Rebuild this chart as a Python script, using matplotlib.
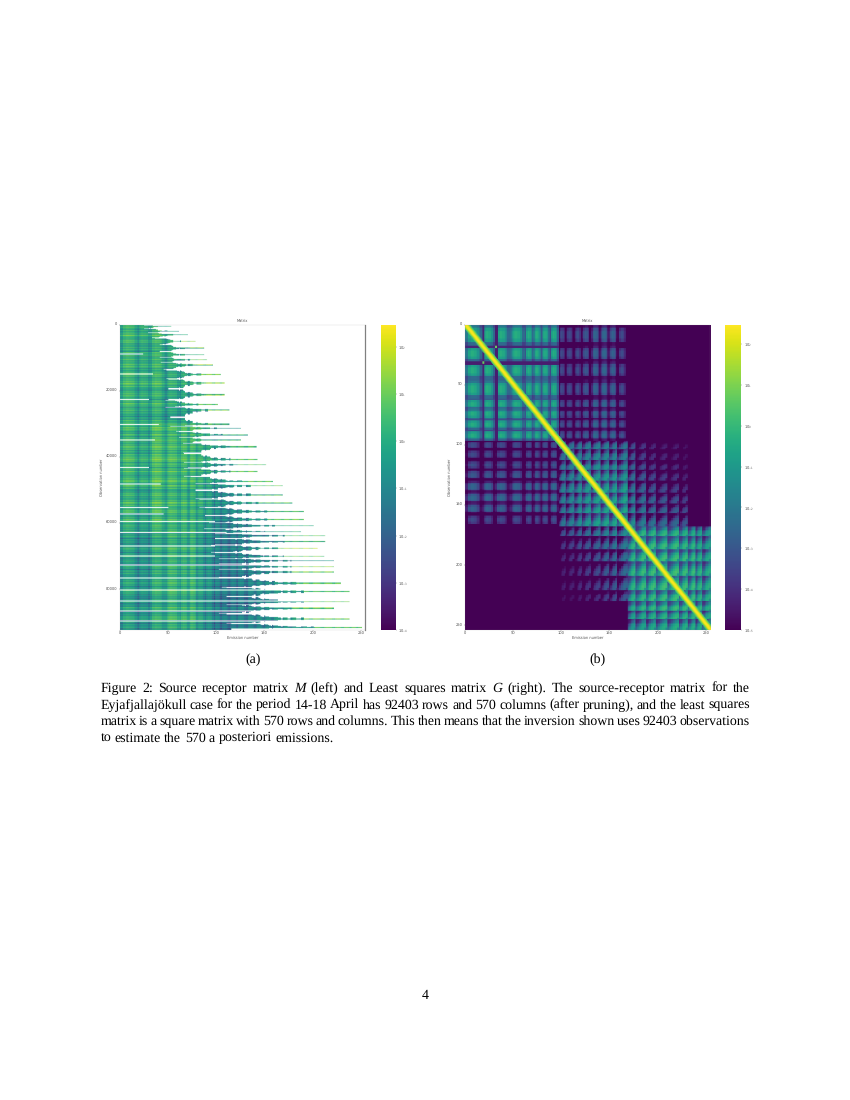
import numpy as np
import matplotlib
matplotlib.use("Agg")
import matplotlib.pyplot as plt
from matplotlib.colors import LogNorm

plt.rcParams["text.hinting"] = "no_hinting"

# ---------- values ----------
BLOCK_EDGES = [0, 18, 31, 46, 62, 70.5, 79, 88, 97, 104, 113, 121, 130, 140, 149, 157.5, 168,
               176.5, 187, 197, 209, 221, 230, 238, 245, 254]
N_A, N_B = 8, 8
# log10 level of each block band against groups A, B, C (matrix G)
G_VS_A = [-0.6, -0.6, -0.6, -0.6, -0.7, -0.7, -0.7, -0.7,
          -3.7, -3.7, -3.5, -3.0, -2.3, -2.0, -2.4, -3.8,
          -5, -5, -5, -5, -5, -5, -5, -5, -5]
G_VS_B = [-3.4, -3.4, -3.4, -3.4, -3.4, -3.4, -3.2, -3.0,
          -2.4, -2.2, -1.9, -1.4, -1.0, -0.9, -0.9, -0.8,
          -1.6, -2.6, -3.1, -3.3, -3.4, -3.9, -5, -5, -5]
G_VS_C = [-5, -5, -5, -5, -5, -5, -5, -5,
          -3.3, -3.2, -3.0, -2.7, -2.4, -2.0, -1.8, -1.6,
          -0.5, -0.3, -0.1, -0.1, -0.1, -0.2, -0.3, -0.6, -0.9]
G_DECAY = [0, 0, -0.05, -0.1, -0.2, -0.3, -0.5, -0.7, -0.9, -1.1, -1.2, -1.3]
G_DECAY_CC = [0, 0, -0.05, -0.05, -0.1, -0.15, -0.25, -0.35, -0.5]
G_SHAPE_C = [[-3.5, -3.5, -3.2, -2.6, -2.0, -1.6],
             [-3.5, -3.2, -2.5, -1.7, -1.0, -0.7],
             [-3.2, -2.5, -1.6, -0.7, -0.2, -0.1],
             [-2.6, -1.7, -0.7, -0.1, 0.2, 0.2],
             [-2.0, -1.0, -0.2, 0.2, 0.4, 0.2],
             [-1.6, -0.7, -0.1, 0.2, 0.2, -0.8]]
G_SHAPE_A = [[-2.6, -1.6, -1.4, -1.4, -1.7, -2.8],
             [-1.6, -0.5, -0.1, -0.2, -0.7, -2.0],
             [-1.3, 0.0, 0.3, 0.1, -0.5, -1.8],
             [-1.3, 0.0, 0.3, 0.1, -0.5, -1.8],
             [-1.6, -0.5, -0.1, -0.2, -0.7, -2.0],
             [-2.8, -2.0, -1.8, -1.8, -2.0, -3.0]]
G_DIAG = [2.45, 2.35, 1.9, 1.0, 0.3]
G_DARK_SPANS = [(18, 20, -4.2), (31, 34, -4.4), (46, 47, -2.6), (62, 63, -3.0), (79, 80, -3.2), (88, 89, -3.4)]
G_SPOTS = [(18, 31, 0.7)]

# matrix M: tips of the wedges, thousands of rows and last emission column
M_TIP_ROWS = [0.7, 2.2, 3.2, 5.2, 7.3, 9.3, 10.8, 12.3, 15.3, 17.8, 21.4, 24.4, 25.9, 30.4, 31.4, 33.5,
              35, 37, 41, 42.5, 44.5, 47.6, 48.8, 51.6, 54.1, 56.6, 59.1, 60.9, 62.7, 63.9, 65.7, 67.7,
              70.2, 71.5, 73.3, 74.8, 78.3, 80.8, 83.8, 85.8, 89.1, 91.7]
M_TIP_COLS = [53, 61, 70, 78, 87, 87, 90, 96, 104, 108, 108, 101, 113, 113, 125, 132,
              125, 141, 142, 151, 142, 158, 168, 168, 178, 190, 190, 200, 187, 212, 212, 204,
              211, 221, 221, 221, 228, 237, 237, 221, 237, 250]
M_BAND_OFFSET = [0.1, -0.1, 0.2, 0.0, -0.2, 0.1, -0.1, 0.1, 0.0, 0.2, -0.1, 0.1, -0.2, 0.0, 0.2, -0.1,
                 0.1, 0.0, 0.2, -0.1, 0.0, 0.2, 0.0, -0.2, 0.1, 0.0, -0.1, -0.2, 0.1, 0.0, -0.2, 0.1,
                 0.0, -0.1, 0.1, -0.1, 0.0, 0.1, -0.2, 0.0, 0.1, -0.1]
M_COL_TOP = [0.2, -0.1, 0.2, -0.2, -0.3, -0.4, -0.2, -0.3, -0.4, -0.4, -0.4, -0.4, -0.4, -0.4, -0.4, -0.4,
             -0.4, -0.4, -0.4, -0.4, -0.4, -0.4, -0.4, -0.4, -0.4]
M_COL_MID = [0.2, -0.2, 0.5, 0.3, 0.3, 0.2, -0.1, -0.4, -0.9, -1.0, -1.0, -0.9, -0.8, -0.9, -0.8, -0.7,
             -0.6, -0.5, -0.4, -0.4, -0.4, -0.4, -0.4, -0.4, -0.4]
M_COL_BOT = [-0.3, -0.7, 0.0, 0.2, 0.1, 0.2, -0.4, -0.7, -1.2, -1.3, -1.3, -1.2, -1.2, -1.1, -1.1, -0.9,
             -0.7, -0.6, -0.5, -0.5, -0.5, -0.5, -0.5, -0.5, -0.5]
M_COL_SHAPE = [-0.7, 0.0, 0.2, 0.1, 0.0, -0.5]
M_WEDGE_REACH = [1.0, 0.8, 0.7, 0.66, 0.63, 0.61, 0.6, 0.46]
M_DASH_START = [9.0, 0.7, 0.66, 0.62, 0.6, 0.58, 0.56, 0.5]
M_SUB_OFFSET = [0.35, 0.25, 0.15, 0.1, 0.0, -0.1, -0.2, -0.3]
M_ROW_TEXTURE = [0.4, -0.8, 0.7, 0.1, -1.2, 0.3, 0.8, -0.5, 0.0, 0.5, -0.9, 0.4, -0.3, 0.7, -1.3, 0.1, 0.4]
M_WHITE_ROWS = [9.0, 15.0, 22.7, 30.2, 35.0, 43.2, 48.2, 55.3, 57.3, 59.5, 62.9, 67.0, 70.0, 72.7, 76.6, 80.2,
                83.6, 86.6, 89.6]
M_WHITE_ENDS = [24, 34, 30, 40, 36, 30, 42, 50, 45, 98, 110, 98, 98, 230, 230, 235, 240, 235, 240]

X_TICKS = [0, 50, 100, 150, 200, 250]
M_Y_TICKS = [0, 20000, 40000, 60000, 80000]
G_Y_TICKS = [0, 50, 100, 150, 200, 250]

CAPTION = [
    "Figure 2:  Source receptor matrix *M (left) and Least squares matrix *G (right).  The source-receptor matrix for the",
    "Eyjafjallajökull case for the period 14-18 April has 92403 rows and 570 columns (after pruning), and the least squares",
    "matrix is a square matrix with 570 rows and columns.  This then means that the inversion shown uses 92403 observations",
    "to estimate the 570 a posteriori emissions.",
]

# ---------- build the two images from the tables ----------
edges = np.array(BLOCK_EDGES)
n_b = len(edges) - 1


def band_of(v):
    return min(int(np.searchsorted(edges, v, side="right")) - 1, n_b - 1)


def group_of(b):
    return 0 if b < N_A else (1 if b < N_A + N_B else 2)


vs = [G_VS_A, G_VS_B, G_VS_C]
GN = 254
G = np.full((GN, GN), -5.0)
for r in range(GN):
    br = band_of(r + 0.5)
    pr = (r + 0.5 - edges[br]) / (edges[br + 1] - edges[br])
    for c in range(GN):
        bc = band_of(c + 0.5)
        pc = (c + 0.5 - edges[bc]) / (edges[bc + 1] - edges[bc])
        a_lv, b_lv = vs[group_of(bc)][br], vs[group_of(br)][bc]
        if min(a_lv, b_lv) <= -5:
            continue
        level = 0.5 * (a_lv + b_lv)
        gr, gc = group_of(br), group_of(bc)
        if gr + gc <= 1:
            shape = G_SHAPE_A
            decay = 0
        elif gr == 2 and gc == 2:
            shape = G_SHAPE_C
            decay = G_DECAY_CC[min(abs(br - bc), len(G_DECAY_CC) - 1)]
        else:
            shape = G_SHAPE_C
            decay = G_DECAY[min(abs(br - bc), len(G_DECAY) - 1)]
        G[r, c] = max(-5.0, level + decay + shape[min(int(pr * 6), 5)][min(int(pc * 6), 5)])
for a, b, lv in G_DARK_SPANS:
    G[a:b, :97] = np.minimum(G[a:b, :97], lv)
    G[:97, a:b] = np.minimum(G[:97, a:b], lv)
for a, b, lv in G_SPOTS:
    G[a:a + 2, b:b + 2] = lv
    G[b:b + 2, a:a + 2] = lv
for i in range(GN):
    for d, lv in enumerate(G_DIAG):
        for j in (i - d, i + d):
            if 0 <= j < GN:
                G[i, j] = max(G[i, j], lv)

MH = 612
M = np.full((MH, GN), np.nan)
tips = np.array(M_TIP_ROWS)
for i in range(MH):
    rk = (i + 0.5) / MH * 92.4
    t = int(np.argmin(np.abs(tips - rk)))
    nb = tips[min(t + 1, len(tips) - 1)] - tips[t] if rk >= tips[t] else tips[t] - tips[max(t - 1, 0)]
    half = max(nb / 2, 0.3)
    d = min(abs(rk - tips[t]) / half, 0.999)
    k = int(d * 8)
    reach = M_WEDGE_REACH[k] * M_TIP_COLS[t]
    cols = M_COL_TOP if rk < 30 else (M_COL_MID if rk < 62 else M_COL_BOT)
    tex = M_ROW_TEXTURE[i % len(M_ROW_TEXTURE)]
    for c in range(GN):
        if c >= reach:
            break
        b = band_of(c + 0.5)
        p = (c + 0.5 - edges[b]) / (edges[b + 1] - edges[b])
        frac = c / M_TIP_COLS[t]
        if frac > M_DASH_START[k] and p > 0.55:
            continue
        v = cols[b] + M_COL_SHAPE[min(int(p * 6), 5)] + M_BAND_OFFSET[t] + M_SUB_OFFSET[k] + tex
        if frac > 0.8:
            v += 1.0
        M[i, c] = v
for rk, end in zip(M_WHITE_ROWS, M_WHITE_ENDS):
    i = int(rk / 92.4 * MH)
    M[i:i + 2, :end] = np.nan

# ---------- page layout ----------
PW, PH = 850, 1100
fig = plt.figure(figsize=(8.5, 11), dpi=100, facecolor="white")


def px_axes(x0, y0, x1, y1):
    return fig.add_axes([x0 / PW, 1 - y1 / PH, (x1 - x0) / PW, (y1 - y0) / PH])


FS = 2.6
TXT = "#555555"


def panel(box, cbox, data, norm, ylim, yticks, ylabel_x):
    ax = px_axes(*box)
    cmap = plt.get_cmap("viridis").copy()
    cmap.set_bad("white")
    im = ax.imshow(np.ma.masked_invalid(10.0 ** data), cmap=cmap, norm=norm, aspect="auto",
                   extent=[0, 254, ylim, 0], interpolation="antialiased")
    ax.set_xticks(X_TICKS)
    ax.set_yticks(yticks)
    ax.tick_params(labelsize=FS, length=1.0, width=0.25, pad=0.6, colors=TXT)
    ax.set_title("Matrix", fontsize=FS, pad=1.8, color=TXT)
    ax.set_xlabel("Emission number", fontsize=FS, labelpad=0.0, color=TXT)
    ax.set_ylabel("Observation number", fontsize=FS, color=TXT)
    ax.yaxis.set_label_coords((ylabel_x - box[0]) / (box[2] - box[0]), 0.5)
    for s in ax.spines.values():
        s.set_linewidth(0.1)
        s.set_color("#999999")
    cax = px_axes(*cbox)
    cb = fig.colorbar(im, cax=cax)
    cb.ax.tick_params(labelsize=FS, length=1.0, width=0.25, pad=0.8, colors=TXT, which="major")
    cb.ax.tick_params(length=0, which="minor")
    cb.outline.set_linewidth(0)
    return ax


ax_m = panel((119.5, 324.5, 365, 630), (380.5, 324.5, 396, 630), M,
             LogNorm(1e-4, 10 ** 2.47), 92403, M_Y_TICKS, 104)
ax_m.spines["right"].set_linewidth(0.9)
ax_m.spines["right"].set_color("#808080")
panel((464.5, 324.5, 710, 630), (725, 324.5, 741, 630), G,
      LogNorm(1e-5, 10 ** 2.48), 254, G_Y_TICKS, 452)

SERIF = "Liberation Serif"
fig.text(253 / PW, 1 - 663 / PH, "(a)", family=SERIF, fontsize=10, ha="center", va="baseline")
fig.text(597 / PW, 1 - 663 / PH, "(b)", family=SERIF, fontsize=10, ha="center", va="baseline")
fig.text(425 / PW, 1 - 999 / PH, "4", family=SERIF, fontsize=10, ha="center", va="baseline")

# justified caption, laid out word by word
renderer = fig.canvas.get_renderer()
LEFT, RIGHT = 100.5, 750
line_y = [692, 708.5, 725, 741.5]
for idx, (line, y) in enumerate(zip(CAPTION, line_y)):
    words = line.split()
    arts, widths = [], []
    for w in words:
        italic = w.startswith("*")
        t = fig.text(0, 1 - y / PH, w.lstrip("*"), family=SERIF, fontsize=10,
                     style="italic" if italic else "normal", ha="left", va="baseline")
        arts.append(t)
        widths.append(t.get_window_extent(renderer).width)
    if idx < len(CAPTION) - 1:
        gap = (RIGHT - LEFT - sum(widths)) / (len(words) - 1)
    else:
        gap = 3.4
    x = LEFT
    for t, w in zip(arts, widths):
        t.set_x(x / PW)
        x += w + gap

fig.savefig("out.png", dpi=100, facecolor="white")
